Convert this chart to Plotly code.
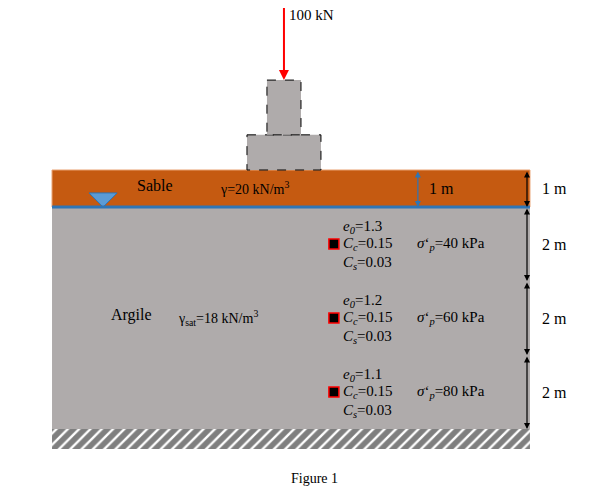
import plotly.graph_objects as go

# ---------- DATA ----------
load_kN = 100
sand_gamma = 20
clay_gamma_sat = 18
sand_bottom = 1.0
layer_bounds = [1.0, 3.0, 5.0, 7.0]          # sublayer boundaries in clay (m depth)
sample_depths = [2.0, 4.0, 6.0]
e0_values = [1.3, 1.2, 1.1]
cc_values = [0.15, 0.15, 0.15]
cs_values = [0.03, 0.03, 0.03]
sigma_p_values = [40, 60, 80]
soil_width = 12.92

FONT = "Liberation Serif"
SAND = "#C55A11"
CLAY = "#AFABAB"
BLUE = "#2E75B6"

fig = go.Figure()

# layers
fig.add_shape(type="rect", x0=0, x1=soil_width, y0=0, y1=sand_bottom, fillcolor=SAND,
              line=dict(color="#E8A070", width=1), layer="below")
fig.add_shape(type="rect", x0=0, x1=soil_width, y0=sand_bottom, y1=layer_bounds[-1],
              fillcolor=CLAY, line_width=0, layer="below")

# bedrock hatch
fig.add_trace(go.Scatter(
    x=[0, soil_width, soil_width, 0, 0],
    y=[layer_bounds[-1], layer_bounds[-1], 7.54, 7.54, layer_bounds[-1]],
    fill="toself", mode="lines", line_width=0, fillcolor="white",
    fillpattern=dict(shape="/", fgcolor="black", bgcolor="white", size=8, solidity=0.7),
    hoverinfo="skip", showlegend=False))

# footing
fig.add_shape(type="rect", x0=5.27, x1=7.27, y0=-0.95, y1=0, fillcolor=CLAY,
              line=dict(color="black", width=1, dash="dash"))
fig.add_shape(type="rect", x0=5.81, x1=6.73, y0=-2.43, y1=-0.95, fillcolor=CLAY,
              line=dict(color="black", width=1, dash="dash"))

# water table triangle
fig.add_shape(type="path", path="M 1.0 0.62 L 1.76 0.62 L 1.38 1.0 Z",
              fillcolor="#5B9BD5", line=dict(color=BLUE, width=1))
fig.add_shape(type="line", x0=0, x1=soil_width, y0=sand_bottom, y1=sand_bottom,
              line=dict(color=BLUE, width=3))

# sample points
fig.add_trace(go.Scatter(x=[7.62] * len(sample_depths), y=sample_depths, mode="markers",
                         marker=dict(symbol="square", size=10, color="black",
                                     line=dict(color="red", width=1.5)),
                         hoverinfo="skip", showlegend=False))

ann = []
def txt(x, y, t, size=15, anchor="left"):
    ann.append(dict(x=x, y=y, text=t, showarrow=False, xanchor=anchor,
                    font=dict(family=FONT, size=size, color="black")))

def arrow(x, y0, y1, color, both=True, width=1.2):
    ann.append(dict(x=x, y=y1, ax=x, ay=y0, xref="x", yref="y", axref="x", ayref="y",
                    text="", showarrow=True, arrowhead=2, arrowsize=1, arrowwidth=width,
                    arrowcolor=color, arrowside="end+start" if both else "end"))

# load
arrow(6.27, -4.6, -2.43, "red", both=False, width=2)
txt(6.35, -4.2, f"{load_kN} kN")

txt(2.25, 0.42, "Sable", 16)
txt(4.5, 0.48, f"γ={sand_gamma} kN/m<sup>3</sup>", 14)
arrow(9.89, 0, sand_bottom, BLUE)
txt(10.15, 0.5, "1 m", 16)

txt(1.55, 3.92, "Argile", 16)
txt(3.35, 4.0, f"γ<sub>sat</sub>={clay_gamma_sat} kN/m<sup>3</sup>", 14)

# right dimensions
bounds = [0.0] + layer_bounds
for a, b in zip(bounds[:-1], bounds[1:]):
    arrow(12.84, a, b, "black")
    txt(13.2, (a + b) / 2, f"{b - a:g} m", 16)

for d, e0, cc, cs, sp in zip(sample_depths, e0_values, cc_values, cs_values, sigma_p_values):
    txt(7.8, d - 0.47, f"<i>e</i><sub><i>0</i></sub>={e0}")
    txt(7.8, d, f"<i>C</i><sub><i>c</i></sub>={cc}")
    txt(7.8, d + 0.5, f"<i>C</i><sub><i>s</i></sub>={cs}")
    txt(9.8, d, f"<i>σ</i>‘<sub><i>p</i></sub>={sp} kPa")

txt(7.1, 8.35, "Figure 1", 14, "center")

fig.update_layout(
    width=610, height=503, margin=dict(l=0, r=0, t=0, b=0),
    plot_bgcolor="white", paper_bgcolor="white", annotations=ann,
    xaxis=dict(range=[-1.19, 15.3], visible=False, fixedrange=True),
    yaxis=dict(range=[9.215, -4.378], visible=False, fixedrange=True),
)
fig.write_html("out.html")
